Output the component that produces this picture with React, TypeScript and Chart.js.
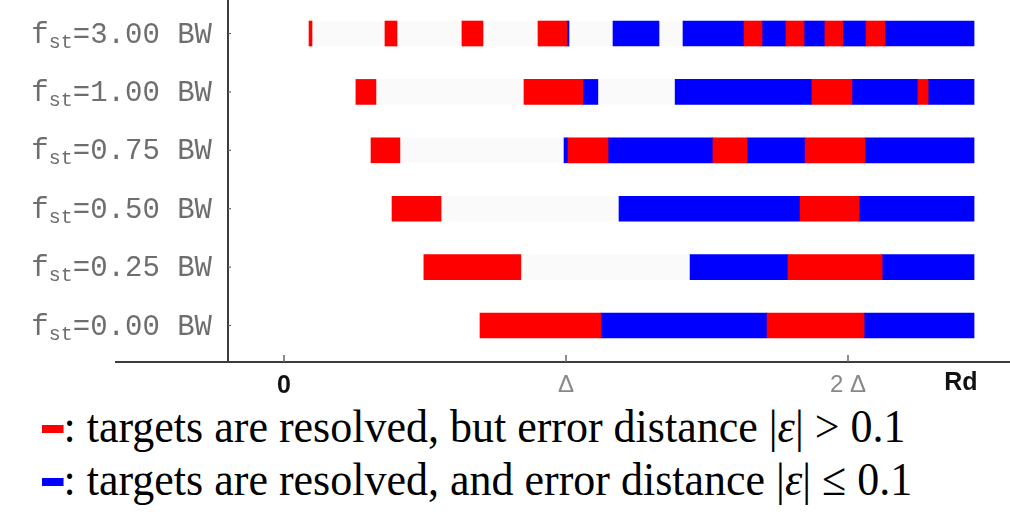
import { useEffect, useRef } from 'react';
import { Chart, registerables } from 'chart.js';

Chart.register(...registerables);

// Rows from bottom (index 0) to top (index 5): f_st values in BW
const ROW_VALUES = ['0.00', '0.25', '0.50', '0.75', '1.00', '3.00'];

// Resolution ranges (in units of Δ) per row
const RED_SEGMENTS: number[][][] = [
  [[0.695, 1.124], [1.713, 2.057]],
  [[0.496, 0.84], [1.787, 2.121]],
  [[0.383, 0.557], [1.83, 2.039]],
  [[0.3085, 0.411], [1.007, 1.149], [1.521, 1.642], [1.848, 2.06]],
  [[0.255, 0.326], [0.851, 1.06], [1.872, 2.014], [2.248, 2.284]],
  [[0.0887, 0.0993], [0.358, 0.4007], [0.631, 0.7057], [0.9007, 1.0035], [1.6312, 1.695], [1.78, 1.844], [1.918, 1.982], [2.064, 2.131]],
];

const BLUE_SEGMENTS: number[][][] = [
  [[1.124, 1.713], [2.057, 2.447]],
  [[1.44, 1.787], [2.121, 2.447]],
  [[1.188, 1.83], [2.039, 2.447]],
  [[0.993, 1.007], [1.149, 1.521], [1.642, 1.848], [2.06, 2.447]],
  [[1.06, 1.113], [1.387, 1.872], [2.014, 2.248], [2.284, 2.447]],
  [[1.0035, 1.0106], [1.1667, 1.3298], [1.4149, 1.6312], [1.695, 1.78], [1.844, 1.918], [1.982, 2.064], [2.131, 2.447]],
];

// faint gray "unresolved" band behind each row
const UNRESOLVED_BANDS: number[][] = [
  [0.695, 2.447],
  [0.496, 2.447],
  [0.383, 2.447],
  [0.3085, 2.447],
  [0.255, 2.447],
  [0.0887, 2.447],
];

const X_TICKS = [0, 1, 2];
const X_TICK_LABELS = ['0', 'Δ', '2 Δ'];
const X_AXIS_TITLE = 'Rd';
const X_TITLE_VALUE = 2.4;

const LEGEND_RED = ': targets are resolved, but error distance |';
const LEGEND_BLUE = ': targets are resolved, and error distance |';

const SANS = '"Liberation Sans Narrow", "Liberation Sans", Arial, sans-serif';

const toBars = (rows: number[][][]) =>
  rows.flatMap((segs, row) => segs.map((s) => ({ x: [s[0], s[1]], y: row })));

const axesPlugin = {
  id: 'customAxes',
  afterDraw(chart: any) {
    const { ctx, chartArea, scales } = chart;
    const xs = scales.x;
    const ys = scales.y;
    ctx.save();
    ctx.strokeStyle = '#3c3c3c';
    ctx.lineWidth = 2;
    ctx.beginPath();
    ctx.moveTo(chartArea.left, 0);
    ctx.lineTo(chartArea.left, chartArea.bottom);
    ctx.stroke();
    ctx.beginPath();
    ctx.moveTo(chartArea.left - 113, chartArea.bottom);
    ctx.lineTo(chart.width, chartArea.bottom);
    ctx.stroke();
    // x tick marks pointing inward
    ctx.lineWidth = 1.5;
    ctx.strokeStyle = '#666';
    X_TICKS.forEach((v) => {
      const px = xs.getPixelForValue(v);
      ctx.beginPath();
      ctx.moveTo(px, chartArea.bottom - 7);
      ctx.lineTo(px, chartArea.bottom);
      ctx.stroke();
    });
    // y tick marks + labels
    ROW_VALUES.forEach((val, i) => {
      const py = ys.getPixelForValue(i);
      ctx.strokeStyle = '#666';
      ctx.lineWidth = 1.2;
      ctx.beginPath();
      ctx.moveTo(chartArea.left, py);
      ctx.lineTo(chartArea.left + 3, py);
      ctx.stroke();

      const big = '29px "Liberation Mono", "Courier New", monospace';
      const small = '20px "Liberation Mono", "Courier New", monospace';
      const rest = '=' + val + ' BW';
      ctx.font = big;
      const wF = ctx.measureText('f').width;
      const wRest = ctx.measureText(rest).width;
      ctx.font = small;
      const wSub = ctx.measureText('st').width;
      const right = chartArea.left - 16;
      let x0 = right - (wF + wSub + wRest);
      const base = py + 9;
      ctx.fillStyle = '#6e6e6e';
      ctx.textAlign = 'left';
      ctx.textBaseline = 'alphabetic';
      ctx.font = big;
      ctx.fillText('f', x0, base);
      x0 += wF;
      ctx.font = small;
      ctx.fillText('st', x0, base + 5);
      x0 += wSub;
      ctx.font = big;
      ctx.fillText(rest, x0, base);
    });
    // axis title
    ctx.fillStyle = '#111';
    ctx.font = 'bold 25px ' + SANS;
    ctx.textAlign = 'center';
    ctx.textBaseline = 'middle';
    ctx.fillText(X_AXIS_TITLE, xs.getPixelForValue(X_TITLE_VALUE), chartArea.bottom + 21);
    ctx.restore();
  },
};

export default function App() {
  const ref = useRef<HTMLCanvasElement | null>(null);

  useEffect(() => {
    if (!ref.current) return;
    const chart = new Chart(ref.current, {
      type: 'bar',
      data: {
        datasets: [
          {
            label: 'resolved, |ε| > 0.1',
            data: toBars(RED_SEGMENTS) as any,
            backgroundColor: '#ff0000',
            borderWidth: 0,
            order: 1,
          },
          {
            label: 'resolved, |ε| ≤ 0.1',
            data: toBars(BLUE_SEGMENTS) as any,
            backgroundColor: '#0000ff',
            borderWidth: 0,
            order: 1,
          },
          {
            label: 'unresolved',
            data: UNRESOLVED_BANDS.map((b, row) => ({ x: [b[0], b[1]], y: row })) as any,
            backgroundColor: '#fafafa',
            borderWidth: 0,
            order: 5,
          },
        ],
      },
      options: {
        animation: false,
        responsive: false,
        indexAxis: 'y',
        layout: { padding: 0 },
        datasets: {
          bar: {
            grouped: false,
            maxBarThickness: 25,
            barPercentage: 1,
            categoryPercentage: 1,
          },
        },
        plugins: {
          legend: { display: false },
          tooltip: { enabled: false },
        },
        scales: {
          x: {
            type: 'linear',
            min: -0.1986,
            max: 2.5745,
            offset: false,
            grid: { display: false, drawTicks: false },
            border: { display: false },
            afterBuildTicks: (s: any) => {
              s.ticks = X_TICKS.map((v) => ({ value: v }));
            },
            afterFit: (s: any) => {
              s.height = 38;
            },
            ticks: {
              autoSkip: false,
              maxRotation: 0,
              padding: 9,
              callback: (_v: any, i: number) => X_TICK_LABELS[i],
              color: (c: any) => (c.index === 0 ? '#111' : '#888'),
              font: (c: any) =>
                c.index === 0
                  ? { family: SANS, size: 25, weight: 'bold' }
                  : { family: SANS, size: 24, weight: 'normal' },
            },
          },
          y: {
            type: 'linear',
            min: -0.625,
            max: 5.574,
            offset: false,
            grid: { display: false, drawTicks: false, offset: false },
            border: { display: false },
            ticks: { display: false },
            afterFit: (s: any) => {
              s.width = 228;
            },
          },
        },
      } as any,
      plugins: [axesPlugin],
    });
    return () => chart.destroy();
  }, []);

  const lineStyle: any = {
    position: 'absolute',
    left: 42,
    fontFamily: '"Liberation Serif", "Times New Roman", serif',
    fontSize: 47,
    lineHeight: '47px',
    whiteSpace: 'nowrap',
    color: '#000',
    transform: 'scaleX(0.936)',
    transformOrigin: '0 0',
  };
  const dash = (color: string): any => ({
    display: 'inline-block',
    width: 23,
    height: 8,
    background: color,
    verticalAlign: 'middle',
    marginBottom: 4,
  });

  return (
    <div style={{ position: 'absolute', left: 0, top: 0, width: 1010, height: 529, background: '#fff', overflow: 'hidden' }}>
      <canvas ref={ref} width={1010} height={400} style={{ position: 'absolute', left: 0, top: 0 }} />
      <div style={{ ...lineStyle, top: 403 }}>
        <span style={dash('#ff0000')} />
        {LEGEND_RED}
        <i>ε</i>| &gt; 0.1
      </div>
      <div style={{ ...lineStyle, top: 456 }}>
        <span style={dash('#0000ff')} />
        {LEGEND_BLUE}
        <i>ε</i>| ≤ 0.1
      </div>
    </div>
  );
}
